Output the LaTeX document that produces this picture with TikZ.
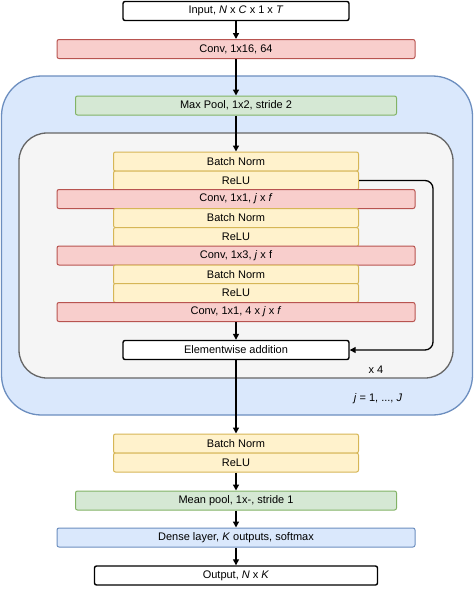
\documentclass[tikz,border=0pt]{standalone}
\usepackage{fontspec}
\setmainfont{Liberation Sans}
\usetikzlibrary{arrows.meta}
\definecolor{redfill}{HTML}{F8CECC}\definecolor{redline}{HTML}{B85450}
\definecolor{yelfill}{HTML}{FFF2CC}\definecolor{yelline}{HTML}{D6B656}
\definecolor{grnfill}{HTML}{D5E8D4}\definecolor{grnline}{HTML}{82B366}
\definecolor{blufill}{HTML}{DAE8FC}\definecolor{bluline}{HTML}{6C8EBF}
\definecolor{gryfill}{HTML}{F5F5F5}\definecolor{gryline}{HTML}{666666}
\tikzset{
  layer/.style={draw,line width=1pt,rounded corners=2pt,minimum height=19pt,inner sep=0pt,font=\fontsize{11}{13}\selectfont},
  conv/.style={layer,fill=redfill,draw=redline,minimum width=358pt},
  norm/.style={layer,fill=yelfill,draw=yelline,minimum width=245pt},
  pool/.style={layer,fill=grnfill,draw=grnline,minimum width=321pt},
  dense/.style={layer,fill=blufill,draw=bluline,minimum width=358pt},
  io/.style={layer,fill=white,draw=black,line width=1.4pt,minimum height=19pt},
  flow/.style={-{Triangle[length=6pt,width=6pt]},line width=1.3pt}
}
\begin{document}
\begin{tikzpicture}[x=1pt,y=-1pt]
	\useasboundingbox (0,0) rectangle (474,614);
	\draw[fill=blufill,draw=bluline,line width=1.3pt,rounded corners=40pt] (1.5,76) rectangle (472.5,415);
	\draw[fill=gryfill,draw=gryline,line width=1.3pt,rounded corners=28pt] (19,133) rectangle (453,378);
	\node[io,minimum width=226pt] (input) at (236,11) {Input, \textit{N} x \textit{C} x 1 x \textit{T}};
	\node[conv] (conv0) at (236,49) {Conv, 1x16, 64};
	\node[pool] (maxpool) at (236,105.5) {Max Pool, 1x2, stride 2};
	\node[norm] (bn1) at (236,161.5) {Batch Norm};
	\node[norm] (relu1) at (236,180.5) {ReLU};
	\node[conv] (conv1) at (236,199) {Conv, 1x1, \textit{j} x \textit{f}};
	\node[norm] (bn2) at (236,218) {Batch Norm};
	\node[norm] (relu2) at (236,237) {ReLU};
	\node[conv] (conv2) at (236,255.5) {Conv, 1x3, \textit{j} x f};
	\node[norm] (bn3) at (236,274.5) {Batch Norm};
	\node[norm] (relu3) at (236,293) {ReLU};
	\node[conv] (conv3) at (236,312) {Conv, 1x1, 4 x \textit{j} x \textit{f}};
	\node[io,minimum width=226pt] (add) at (236,350) {Elementwise addition};
	\node[font=\fontsize{11}{13}\selectfont] (rep) at (376,370) {x 4};
	\node[font=\fontsize{11}{13}\selectfont] (range) at (378,399) {\textit{j} = 1, ..., \textit{J}};
	\node[norm] (bn4) at (236,443.5) {Batch Norm};
	\node[norm] (relu4) at (236,462.5) {ReLU};
	\node[pool] (meanpool) at (236,500.5) {Mean pool, 1x-, stride 1};
	\node[dense] (fc) at (236,537.5) {Dense layer, \textit{K} outputs, softmax};
	\node[io,minimum width=283pt] (output) at (236,575.5) {Output, \textit{N} x \textit{K}};
	\draw[flow] (input) -- (conv0);
	\draw[flow] (conv0) -- (maxpool);
	\draw[flow] (maxpool) -- (bn1);
	\draw[flow] (conv3) -- (add);
	\draw[flow,rounded corners=8pt] (relu1.east) -- (433,180.5) -- (433,350) -- (add.east);
	\draw[flow] (add) -- (bn4);
	\draw[flow] (relu4) -- (meanpool);
	\draw[flow] (meanpool) -- (fc);
	\draw[flow] (fc) -- (output);
\end{tikzpicture}
\end{document}
